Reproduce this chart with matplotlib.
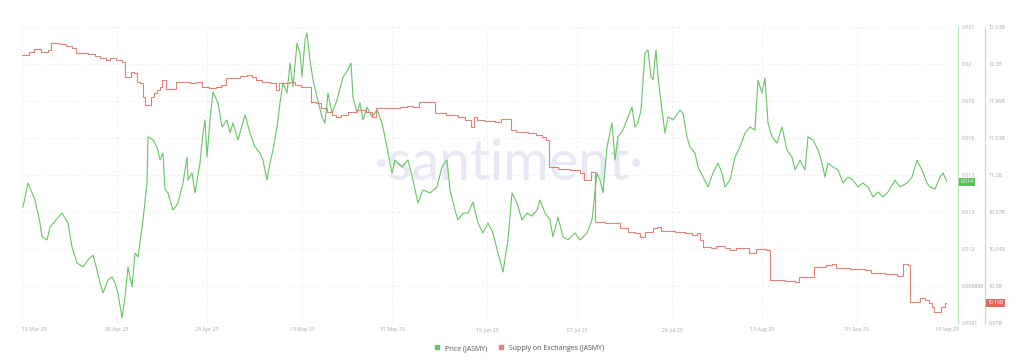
import pandas as pd
import matplotlib
matplotlib.use("Agg")
import matplotlib.pyplot as plt
import matplotlib.dates as mdates
import matplotlib.transforms as mtransforms
from matplotlib.lines import Line2D

# ==================== DATA ====================
START = pd.Timestamp("2025-03-18")
END = pd.Timestamp("2025-09-19")

# price (JASMY), days after 18 Mar 25
PRICE_DAYS = [
    0.2, 1.2, 2.6, 3.6, 4.0, 5.0, 5.6, 8.0, 9.2, 10.0, 11.0, 12.2, 13.2, 14.2, 15.0,
    15.6, 16.2, 17.2, 18.0, 18.6, 19.2, 20.0, 20.6, 21.2, 22.0, 22.6, 23.2, 24.2, 25.0,
    25.2, 26.2, 27.0, 27.6, 28.2, 28.6, 29.2, 30.2, 31.2, 32.2, 33.0, 33.2, 34.0, 34.6,
    35.6, 36.2, 36.6, 37.0, 37.6, 38.2, 39.2, 40.0, 41.0, 41.6, 42.2, 43.2, 44.6, 45.6,
    46.6, 47.6, 48.2, 49.0, 49.6, 50.2, 51.0, 51.6, 52.2, 53.0, 53.6, 54.2, 55.0, 55.6,
    56.0, 56.6, 57.0, 57.6, 58.2, 59.0, 60.0, 60.6, 61.2, 62.0, 63.0, 64.2, 65.2, 65.8,
    66.2, 67.0, 67.6, 68.2, 69.0, 70.0, 71.0, 72.0, 73.0, 73.6, 74.0, 74.6, 76.0, 77.2,
    78.2, 79.2, 80.2, 81.6, 83.0, 84.0, 85.0, 85.6, 86.6, 87.2, 88.2, 89.2, 90.2, 91.2,
    92.2, 93.2, 94.2, 95.2, 96.2, 97.2, 98.0, 99.0, 100.0, 101.0, 102.0, 103.0, 103.6,
    104.6, 105.6, 106.2, 107.2, 108.2, 109.2, 110.6, 111.6, 113.0, 114.0, 115.0, 115.6,
    116.2, 117.0, 118.0, 118.6, 119.2, 120.2, 121.2, 122.0, 122.6, 123.2, 123.8, 124.6,
    125.2, 125.8, 126.2, 126.8, 127.2, 128.0, 128.6, 129.2, 130.2, 131.6, 132.2, 133.0,
    133.6, 134.6, 135.2, 136.2, 137.2, 138.2, 139.2, 140.0, 140.6, 141.6, 142.6, 143.6,
    144.6, 145.6, 146.6, 147.2, 148.0, 148.6, 149.2, 150.0, 151.0, 152.0, 153.0, 154.0,
    154.6, 155.6, 156.6, 157.2, 158.2, 159.2, 160.0, 160.6, 161.2, 162.2, 163.2, 164.2,
    165.2, 166.2, 167.2, 168.2, 169.2, 170.2, 171.2, 172.2, 173.2, 174.6, 175.6, 177.0,
    178.0, 179.0, 180.0, 181.0, 181.6, 182.6, 183.6, 184.2, 185.0,
]
PRICE = [
    0.01316, 0.01420, 0.01346, 0.01246, 0.01185, 0.01172, 0.01228, 0.01289, 0.01246,
    0.01141, 0.01072, 0.01054, 0.01085, 0.01106, 0.01041, 0.00984, 0.00941, 0.00997,
    0.01011, 0.00984, 0.00941, 0.00832, 0.00923, 0.01054, 0.00967, 0.01115, 0.01098,
    0.01259, 0.01420, 0.01621, 0.01608, 0.01577, 0.01520, 0.01551, 0.01390, 0.01377,
    0.01302, 0.01333, 0.01420, 0.01533, 0.01433, 0.01464, 0.01377, 0.01507, 0.01638,
    0.01695, 0.01533, 0.01695, 0.01817, 0.01769, 0.01664, 0.01695, 0.01638, 0.01682,
    0.01608, 0.01717, 0.01638, 0.01577, 0.01551, 0.01520, 0.01433, 0.01507, 0.01564,
    0.01664, 0.01769, 0.01856, 0.01812, 0.01943, 0.01839, 0.02030, 0.01987, 0.01882,
    0.02043, 0.02074, 0.01956, 0.01869, 0.01795, 0.01708, 0.01682, 0.01812, 0.01725,
    0.01782, 0.01882, 0.01913, 0.01943, 0.01795, 0.01725, 0.01769, 0.01695, 0.01751,
    0.01708, 0.01738, 0.01682, 0.01577, 0.01507, 0.01464, 0.01520, 0.01490, 0.01520,
    0.01433, 0.01333, 0.01390, 0.01377, 0.01403, 0.01490, 0.01520, 0.01390, 0.01302,
    0.01259, 0.01289, 0.01289, 0.01337, 0.01246, 0.01202, 0.01246, 0.01202, 0.01115,
    0.01032, 0.01172, 0.01377, 0.01333, 0.01259, 0.01289, 0.01276, 0.01302, 0.01346,
    0.01289, 0.01259, 0.01185, 0.01272, 0.01185, 0.01172, 0.01202, 0.01172, 0.01202,
    0.01259, 0.01464, 0.01433, 0.01377, 0.01577, 0.01682, 0.01520, 0.01621, 0.01651,
    0.01708, 0.01751, 0.01664, 0.01682, 0.01738, 0.01987, 0.02000, 0.01882, 0.01869,
    0.02000, 0.01882, 0.01738, 0.01638, 0.01708, 0.01695, 0.01738, 0.01725, 0.01621,
    0.01577, 0.01551, 0.01490, 0.01446, 0.01403, 0.01464, 0.01507, 0.01464, 0.01403,
    0.01433, 0.01533, 0.01577, 0.01638, 0.01664, 0.01651, 0.01869, 0.01812, 0.01878,
    0.01682, 0.01621, 0.01594, 0.01664, 0.01564, 0.01533, 0.01477, 0.01520, 0.01477,
    0.01621, 0.01608, 0.01564, 0.01507, 0.01446, 0.01507, 0.01490, 0.01477, 0.01420,
    0.01446, 0.01433, 0.01403, 0.01420, 0.01403, 0.01359, 0.01381, 0.01359, 0.01381,
    0.01433, 0.01403, 0.01420, 0.01446, 0.01520, 0.01477, 0.01420, 0.01403, 0.01394,
    0.01446, 0.01464, 0.01425,
]

# supply on exchanges (JASMY), billions, step changes
SUPPLY_DAYS = [
    0.0, 1.4, 2.4, 3.8, 5.2, 5.8, 7.6, 8.8, 10.0, 10.8, 13.2, 14.6, 15.6, 16.8, 17.6,
    18.8, 20.0, 20.6, 21.8, 22.4, 23.0, 23.6, 24.2, 24.6, 25.8, 26.4, 27.0, 27.6, 28.0,
    28.8, 30.8, 33.6, 34.8, 36.0, 37.4, 38.8, 39.8, 40.8, 43.6, 45.0, 46.0, 46.8, 48.0,
    49.6, 50.8, 51.4, 53.6, 54.6, 55.8, 57.8, 58.8, 59.8, 61.0, 62.0, 62.8, 63.8, 65.2,
    66.8, 68.8, 70.0, 70.8, 75.6, 77.0, 78.2, 79.4, 82.6, 84.8, 87.2, 88.6, 89.8, 90.4,
    91.0, 92.6, 94.6, 95.8, 97.8, 98.8, 101.2, 102.8, 104.0, 104.8, 105.4, 107.2, 109.6,
    111.6, 112.4, 113.8, 114.6, 116.6, 119.6, 121.2, 122.6, 123.6, 124.6, 126.2, 127.0,
    127.8, 130.6, 132.6, 134.0, 135.0, 135.6, 136.2, 137.8, 138.8, 140.6, 141.6, 142.8,
    145.4, 146.8, 148.8, 149.6, 152.6, 154.6, 155.4, 158.4, 160.8, 162.0, 162.8, 165.6,
    168.6, 169.8, 172.6, 175.0, 176.2, 177.2, 177.6, 179.6, 180.6, 181.4, 182.0, 182.4,
    183.8, 184.6, 185.0,
]
SUPPLY_B = [
    12.378, 12.405, 12.432, 12.405, 12.423, 12.486, 12.477, 12.459, 12.441, 12.396,
    12.387, 12.369, 12.351, 12.333, 12.351, 12.333, 12.315, 12.181, 12.226, 12.217,
    12.136, 12.127, 12.001, 11.929, 12.001, 12.037, 12.064, 12.091, 12.154, 12.073,
    12.136, 12.127, 12.136, 12.091, 12.082, 12.091, 12.109, 12.172, 12.190, 12.199,
    12.181, 12.154, 12.136, 12.127, 12.064, 12.127, 12.136, 12.109, 12.091, 11.956,
    11.947, 11.902, 11.866, 11.839, 11.821, 11.839, 11.866, 11.884, 11.866, 11.821,
    11.902, 11.911, 11.920, 11.911, 11.956, 11.857, 11.839, 11.821, 11.794, 11.731,
    11.821, 11.794, 11.785, 11.776, 11.803, 11.704, 11.686, 11.677, 11.660, 11.642,
    11.615, 11.372, 11.354, 11.345, 11.318, 11.255, 11.327, 10.878, 10.869, 10.824,
    10.788, 10.779, 10.743, 10.788, 10.824, 10.833, 10.797, 10.788, 10.779, 10.761,
    10.779, 10.716, 10.653, 10.644, 10.662, 10.644, 10.626, 10.644, 10.599, 10.635,
    10.626, 10.357, 10.348, 10.339, 10.384, 10.473, 10.491, 10.500, 10.464, 10.455,
    10.446, 10.419, 10.410, 10.392, 10.500, 10.491, 10.159, 10.195, 10.177, 10.150,
    10.114, 10.069, 10.114, 10.150, 10.150,
]

TICK_DATES = [
    "2025-03-18", "2025-04-06", "2025-04-24", "2025-05-13", "2025-05-31", "2025-06-19",
    "2025-07-07", "2025-07-26", "2025-08-13", "2025-09-01", "2025-09-19",
]
PRICE_LIM = (0.0081, 0.021)
PRICE_TICK_LABELS = ["0.0081", "0.009886", "0.012", "0.013", "0.015", "0.016",
                     "0.019", "0.02", "0.021"]
SUPPLY_LIM = (9.97, 12.63)
SUPPLY_TICK_LABELS = ["9.97B", "10.3B", "10.64B", "10.97B", "11.3B", "11.63B",
                      "11.96B", "12.3B", "12.63B"]
PRICE_BADGE = "0.014"
SUPPLY_BADGE = "10.15B"

# ==================== STYLE ====================
GREEN = "#66c566"
GREEN_AXIS = "#b5e3b5"
RED = "#e0837b"
RED_AXIS = "#f1c2bd"
TICK_COLOR = "#a3a7ab"
GRID_COLOR = "#ececec"

plt.rcParams["font.family"] = ["Open Sans", "DejaVu Sans"]

price_dates = START + pd.to_timedelta(PRICE_DAYS, unit="D")
supply_dates = START + pd.to_timedelta(SUPPLY_DAYS, unit="D")
tick_dates = pd.to_datetime(TICK_DATES)

fig = plt.figure(figsize=(10.24, 3.62), dpi=100)
ax = fig.add_axes([22 / 1024, 39 / 362, 925 / 1024, 296 / 362])
ax2 = ax.twinx()

# watermark
ax.text(0.527, 0.535, "·santiment·", transform=ax.transAxes, ha="center", va="center",
        fontsize=40, color="#e6e8f3", family="Lato", zorder=0)

ax.plot(price_dates, PRICE, color=GREEN, lw=0.8, zorder=3)
ax2.step(supply_dates, SUPPLY_B, where="post", color=RED, lw=0.8, zorder=3)

ax.set_xlim(START, END)
ax.set_ylim(*PRICE_LIM)
ax2.set_ylim(*SUPPLY_LIM)

price_ticks = [PRICE_LIM[0] + i * (PRICE_LIM[1] - PRICE_LIM[0]) / 8 for i in range(9)]
supply_ticks = [SUPPLY_LIM[0] + i * (SUPPLY_LIM[1] - SUPPLY_LIM[0]) / 8 for i in range(9)]
ax.set_yticks(price_ticks)
ax.set_yticklabels(PRICE_TICK_LABELS)
ax2.set_yticks(supply_ticks)
ax2.set_yticklabels(SUPPLY_TICK_LABELS)

ax.set_xticks(tick_dates)
ax.xaxis.set_major_formatter(mdates.DateFormatter("%d %b %y"))
ax.tick_params(axis="x", length=0, pad=3, labelsize=3.8, labelcolor=TICK_COLOR)
ax.get_xticklabels()[0].set_ha("left")

ax.yaxis.tick_right()
ax.tick_params(axis="y", length=0, pad=2.5, labelsize=3.8, labelcolor=TICK_COLOR)
ax2.tick_params(axis="y", length=0, pad=2.5, labelsize=3.8, labelcolor=TICK_COLOR)

ax.grid(True, ls=(0, (3, 3)), color=GRID_COLOR, lw=0.6)
ax.set_axisbelow(True)

for s in ["left", "top", "bottom"]:
    ax.spines[s].set_visible(False)
    ax2.spines[s].set_visible(False)
ax.spines["right"].set_position(("outward", 8))
ax.spines["right"].set_color(GREEN_AXIS)
ax.spines["right"].set_linewidth(0.8)
ax2.spines["right"].set_position(("outward", 27.5))
ax2.spines["right"].set_color(RED_AXIS)
ax2.spines["right"].set_linewidth(0.8)

# last value badges
tr1 = mtransforms.blended_transform_factory(ax.transAxes, ax.transData)
ax.text(1.0145, PRICE[-1], PRICE_BADGE, transform=tr1, fontsize=3.6, color="white",
        va="center", ha="left", clip_on=False,
        bbox=dict(boxstyle="square,pad=0.3", fc="#5cbf5c", ec="none"))
tr2 = mtransforms.blended_transform_factory(ax2.transAxes, ax2.transData)
ax2.text(1.0435, SUPPLY_B[-1], SUPPLY_BADGE, transform=tr2, fontsize=3.6, color="white",
         va="center", ha="left", clip_on=False,
         bbox=dict(boxstyle="square,pad=0.3", fc="#e4675c", ec="none"))

handles = [
    Line2D([], [], marker="s", ls="", color=GREEN, markersize=3.2),
    Line2D([], [], marker="s", ls="", color=RED, markersize=3.2),
]
fig.legend(handles, ["Price (JASMY)", "Supply on Exchanges (JASMY)"], loc="center",
           bbox_to_anchor=(0.505, 0.038), ncol=2, frameon=False, fontsize=5,
           handletextpad=0.2, columnspacing=1.0, labelcolor="#555555")

fig.savefig("out.png", dpi=100)
